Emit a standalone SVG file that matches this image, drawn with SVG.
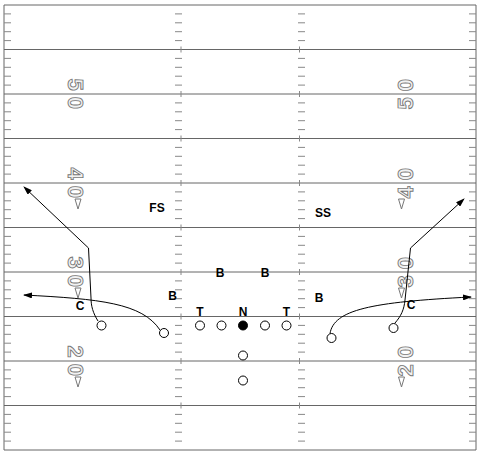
<svg xmlns="http://www.w3.org/2000/svg" xmlns:xlink="http://www.w3.org/1999/xlink" width="480" height="454" viewBox="0 0 480 454">
<style>
.yl{stroke:#666;stroke-width:1;fill:none}
.tk{stroke:#888;stroke-width:1;fill:none}
.num{font-family:"Liberation Sans",Arial,sans-serif;font-weight:bold;font-size:22px;fill:#f2f2f2;stroke:#777;stroke-width:0.9;letter-spacing:6px}
.dir{fill:#fff;stroke:#777;stroke-width:1}
.lbl{font-family:"Liberation Sans",Arial,sans-serif;font-weight:bold;font-size:12px;fill:#000;text-anchor:middle}
.pl{fill:#fff;stroke:#000;stroke-width:1}
.route{fill:none;stroke:#000;stroke-width:1;marker-end:url(#ah)}
</style>
<defs>
<marker id="ah" markerWidth="9" markerHeight="6" refX="8" refY="3" orient="auto" markerUnits="userSpaceOnUse">
<path d="M0,0 L9,3 L0,6 z" fill="#000"/>
</marker>
<path id="ticks" d="M0,13.9h7M0,22.8h7M0,31.7h7M0,40.6h7M0,58.4h7M0,67.3h7M0,76.2h7M0,85.1h7M0,102.9h7M0,111.8h7M0,120.7h7M0,129.6h7M0,147.4h7M0,156.3h7M0,165.2h7M0,174.1h7M0,191.9h7M0,200.8h7M0,209.7h7M0,218.6h7M0,236.4h7M0,245.3h7M0,254.2h7M0,263.1h7M0,280.9h7M0,289.8h7M0,298.7h7M0,307.6h7M0,325.4h7M0,334.3h7M0,343.2h7M0,352.1h7M0,369.9h7M0,378.8h7M0,387.7h7M0,396.6h7M0,414.4h7M0,423.3h7M0,432.2h7M0,441.1h7"/>
<path id="cross" d="M0,46.5v6M0,91v6M0,135.5v6M0,180v6M0,224.5v6M0,269v6M0,313.5v6M0,358v6M0,402.5v6"/>
<polygon id="arrL" points="-3,0 3,0 0,10"/>
</defs>
<rect x="0" y="0" width="480" height="454" fill="#fff"/>
<g id="field">
<path class="yl" d="M4,5H476M4,49.5H476M4,94H476M4,138.5H476M4,183H476M4,227.5H476M4,272H476M4,316.5H476M4,361H476M4,405.5H476M4,450H476M4,5V450M476,5V450"/>
<g class="tk">
<use xlink:href="#ticks" x="4"/>
<use xlink:href="#ticks" x="469"/>
<use xlink:href="#ticks" x="175"/>
<use xlink:href="#ticks" x="298"/>
<use xlink:href="#cross" x="181"/>
<use xlink:href="#cross" x="299.5"/>
</g>
</g>
<g id="numbers">
<text class="num" transform="translate(67.5,94) rotate(90)" x="-15.5" y="0">50</text>
<text class="num" transform="translate(67.5,183) rotate(90)" x="-15.5" y="0">40</text>
<text class="num" transform="translate(67.5,272) rotate(90)" x="-15.5" y="0">30</text>
<text class="num" transform="translate(67.5,361) rotate(90)" x="-15.5" y="0">20</text>
<text class="num" transform="translate(412.5,94) rotate(-90)" x="-15.5" y="0">50</text>
<text class="num" transform="translate(412.5,183) rotate(-90)" x="-15.5" y="0">40</text>
<text class="num" transform="translate(412.5,272) rotate(-90)" x="-15.5" y="0">30</text>
<text class="num" transform="translate(412.5,361) rotate(-90)" x="-15.5" y="0">20</text>
<use class="dir" xlink:href="#arrL" x="78" y="199"/>
<use class="dir" xlink:href="#arrL" x="78" y="288"/>
<use class="dir" xlink:href="#arrL" x="78" y="377"/>
<use class="dir" xlink:href="#arrL" x="401.5" y="199"/>
<use class="dir" xlink:href="#arrL" x="401.5" y="288"/>
<use class="dir" xlink:href="#arrL" x="401.5" y="377"/>
</g>
<g id="connectors">
<path class="route" d="M98,321 C93,313 91,306 91,298 L88.5,248 L24,187"/>
<path class="route" d="M160,330 C142,303 100,299 24,295"/>
<path class="route" d="M395,323 C401,316 404,310 405,300 L410.5,248 L464,199"/>
<path class="route" d="M330,333.5 C334,310 370,302 471,297"/>
</g>
<g id="defense">
<g id="d-fs"><text class="lbl" x="157" y="212">FS</text></g>
<g id="d-ss"><text class="lbl" x="323" y="217">SS</text></g>
<g id="d-b1"><text class="lbl" x="220" y="277">B</text></g>
<g id="d-b2"><text class="lbl" x="265" y="277">B</text></g>
<g id="d-b3"><text class="lbl" x="172.5" y="300">B</text></g>
<g id="d-b4"><text class="lbl" x="319" y="302">B</text></g>
<g id="d-c1"><text class="lbl" x="80" y="310">C</text></g>
<g id="d-c2"><text class="lbl" x="411" y="309">C</text></g>
<g id="d-t1"><text class="lbl" x="200" y="316">T</text></g>
<g id="d-n"><text class="lbl" x="243" y="316">N</text></g>
<g id="d-t2"><text class="lbl" x="286.5" y="316">T</text></g>
</g>
<g id="offense">
<g id="o-wr1"><circle class="pl" cx="101.5" cy="325.5" r="4.5"/></g>
<g id="o-wr2"><circle class="pl" cx="164" cy="333" r="4.5"/></g>
<g id="o-lt"><circle class="pl" cx="200" cy="325.5" r="4.5"/></g>
<g id="o-lg"><circle class="pl" cx="221.5" cy="325.5" r="4.5"/></g>
<g id="o-c"><circle cx="243" cy="325.5" r="4.5" fill="#000" stroke="#000"/></g>
<g id="o-rg"><circle class="pl" cx="265" cy="325.5" r="4.5"/></g>
<g id="o-rt"><circle class="pl" cx="286.5" cy="325.5" r="4.5"/></g>
<g id="o-qb"><circle class="pl" cx="243" cy="355.5" r="4.5"/></g>
<g id="o-rb"><circle class="pl" cx="243" cy="380.5" r="4.5"/></g>
<g id="o-wr3"><circle class="pl" cx="331.5" cy="338" r="4.5"/></g>
<g id="o-wr4"><circle class="pl" cx="393.5" cy="328" r="4.5"/></g>
</g>
</svg>
